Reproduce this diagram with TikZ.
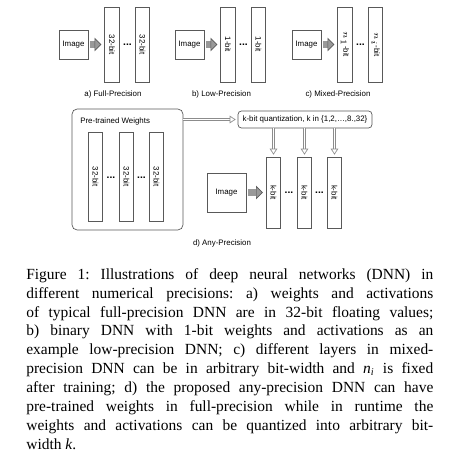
\documentclass[tikz,border=0pt]{standalone}
\usepackage{fontspec}
\setmainfont{Liberation Serif}
\setsansfont{Liberation Sans}
\usetikzlibrary{arrows.meta}
\newcommand{\pxu}{0.582pt}
\begin{document}
\begin{tikzpicture}[x=0.582pt,y=-0.582pt,
  lbl/.style={font=\sffamily\fontsize{4.6}{5.5}\selectfont, inner sep=0pt},
  imgbox/.style={lbl, draw=black!65, minimum size=29*\pxu},
  layer/.style={lbl, draw=black!65, rotate=-90, minimum width=75*\pxu, minimum height=14.5*\pxu},
  dotsep/.style={font=\sffamily\bfseries\fontsize{6}{6}\selectfont, inner sep=0pt},
  feed/.style={draw=black!65, double=black!40, double distance=3.6pt, shorten <=2*\pxu, shorten >=3*\pxu,
    -{Triangle[length=4pt,width=8pt,fill=black!40]}},
  quant/.style={draw=black!45, double=white, double distance=1.1pt, shorten >=2*\pxu,
    -{Triangle[open,length=3.5pt,width=4.5pt]}}]
\useasboundingbox (0,0) rectangle (474,456);
\foreach \g/\x/\ba/\bb/\lab/\lx in {a/73.5/32-bit/32-bit/a) Full-Precision/113,
    b/189.5/1-bit/1-bit/b) Low-Precision/221.5,
    c/306.5/$n_1$-bit/$n_i$-bit/c) Mixed-Precision/338}{
  \node[imgbox] (img\g) at (\x,44.5) {Image};
  \node[layer] (\g1) at (\x+38.5,44.5) {\ba};
  \node[layer] (\g2) at (\x+69,44.5) {\bb};
  \node[dotsep] (dots\g) at (\x+54,44.5) {...};
  \draw[feed] (img\g) -- (\g1);
  \node[lbl] (lab\g) at (\lx,94) {\lab};
}
% any-precision
\node[draw=black!65, rounded corners=3pt, minimum width=111*\pxu, minimum height=121*\pxu] (weights) at (127.5,169.5) {};
\node[lbl, anchor=west] (wtitle) at (80,121) {Pre-trained Weights};
\node[layer, minimum width=89*\pxu] (w1) at (95.5,176.5) {32-bit};
\node[layer, minimum width=89*\pxu] (w2) at (126.5,176.5) {32-bit};
\node[layer, minimum width=89*\pxu] (w3) at (156.5,176.5) {32-bit};
\node[dotsep] (wdots1) at (111,178) {...};
\node[dotsep] (wdots2) at (141.5,178) {...};
\node[lbl, draw=black!65, rounded corners=2pt, minimum width=134*\pxu, minimum height=17*\pxu] (kbit) at (305,119.5)
  {k-bit quantization, k in \{1,2,\dots,8.,32\}};
\draw[quant] (weights.east |- kbit.west) -- (kbit.west);
\node[imgbox, minimum size=39*\pxu] (imgd) at (226.5,192.5) {Image};
\node[layer, minimum width=71*\pxu] (d1) at (273.5,192.5) {k-bit};
\node[layer, minimum width=71*\pxu] (d2) at (304.5,192.5) {k-bit};
\node[layer, minimum width=71*\pxu] (d3) at (334.5,192.5) {k-bit};
\node[dotsep] (ddots1) at (289,192.5) {...};
\node[dotsep] (ddots2) at (319.5,192.5) {...};
\foreach \b in {d1,d2,d3}
  \draw[quant] (kbit.south -| \b) -- (\b);
\draw[feed] (imgd) -- (d1);
\node[lbl] (labd) at (222,243) {d) Any-Precision};
% caption
\node[anchor=north west, inner sep=0pt, text width=407*\pxu, align=justify,
  font=\frenchspacing\fontsize{9}{11}\selectfont] (caption) at (26,268) {%
Figure 1: Illustrations of deep neural networks (DNN) in\linebreak
different numerical precisions: a) weights and activations\linebreak
of typical full-precision DNN are in 32-bit floating values;\linebreak
b) binary DNN with 1-bit weights and activations as an\linebreak
example low-precision DNN; c) different layers in mixed-\linebreak
precision DNN can be in arbitrary bit-width and \textit{n}\textsubscript{\textit{i}} is fixed\linebreak
after training; d) the proposed any-precision DNN can have\linebreak
pre-trained weights in full-precision while in runtime the\linebreak
weights and activations can be quantized into arbitrary bit-\linebreak
width \textit{k}.};
\end{tikzpicture}
\end{document}
